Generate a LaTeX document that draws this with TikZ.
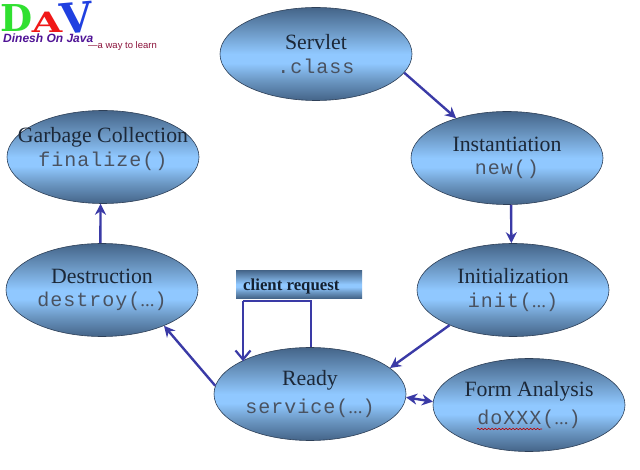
\documentclass[tikz,border=0pt]{standalone}
\usepackage{fontspec}
\setmainfont{Liberation Serif}
\setmonofont[LetterSpace=5]{Liberation Mono}
\setsansfont{Liberation Sans}
\newfontfamily\logofont{DejaVu Serif}
\usetikzlibrary{shapes.geometric,arrows.meta,decorations.pathmorphing}
\definecolor{bdark}{HTML}{446488}
\definecolor{bmid}{HTML}{6C98C4}
\definecolor{blight}{HTML}{90C8FF}
\definecolor{arrowc}{HTML}{3A3AA6}
\definecolor{edgec}{HTML}{2E4058}
\pgfdeclareverticalshading{bubble}{100bp}{
  color(0bp)=(bdark); color(25bp)=(bdark); color(36bp)=(bmid); color(45bp)=(blight); color(50bp)=(blight); color(62bp)=(bmid); color(75bp)=(bdark); color(100bp)=(bdark)}
\newcommand{\titletxt}[1]{{\fontsize{21.8}{25}\selectfont\color[HTML]{1C2838}\raisebox{-1pt}{#1}}}
\newcommand{\codetxt}[1]{{\fontsize{20}{25}\selectfont\ttfamily\color[HTML]{4A5260}\raisebox{-1pt}{#1}}}
\newcommand{\dotstxt}{{\rmfamily\fontsize{19}{25}\selectfont...}}
\tikzset{
  bubblenode/.style={ellipse,draw=edgec,line width=0.6pt,shading=bubble,minimum width=192pt,minimum height=93pt,inner xsep=-36pt,inner ysep=0pt,align=center},
  flow/.style={draw=arrowc,line width=2.4pt,-{Stealth[length=11pt,width=11pt]}},
  flowboth/.style={draw=arrowc,line width=2.4pt,{Stealth[length=11pt,width=11pt]}-{Stealth[length=11pt,width=11pt]}},
  loopline/.style={draw=arrowc,line width=2.2pt},
  logoletter/.style={inner sep=0pt,anchor=base},
}
\begin{document}
\begin{tikzpicture}[x=1pt,y=-1pt]
\useasboundingbox (0,0) rectangle (640,470);
\fill[white] (0,0) rectangle (640,470);
% logo
\node[logoletter,text={rgb,255:red,48;green,224;blue,48}] (logoD) at (17,32) {\logofont\bfseries\fontsize{37}{37}\selectfont D};
\node[logoletter,text={rgb,255:red,240;green,24;blue,24},xscale=1.4] (logoA) at (47,33) {\logofont\bfseries\fontsize{28}{28}\selectfont A};
\node[logoletter,text={rgb,255:red,32;green,64;blue,224},rotate=5] (logoV) at (78,33) {\logofont\bfseries\fontsize{42}{42}\selectfont V};
\node[inner sep=0pt,anchor=base west,text={rgb,255:red,80;green,20;blue,150}] (logoT) at (3,43) {\sffamily\bfseries\itshape\fontsize{12}{12}\selectfont Dinesh On Java};
\node[inner sep=0pt,anchor=base west,text={rgb,255:red,140;green,20;blue,60}] (logoS) at (88,49) {\sffamily\fontsize{9.5}{10}\selectfont ---a way to learn};
% bubbles
\node[bubblenode] (servlet) at (316,54) {\titletxt{Servlet}\\[8pt]\codetxt{.class}};
\node[bubblenode] (inst) at (507,158) {\titletxt{Instantiation}\\[8pt]\codetxt{new()}};
\node[bubblenode] (init) at (513,290) {\titletxt{Initialization}\\[8pt]\codetxt{init(\dotstxt)}};
\node[bubblenode] (ready) at (310,394) {\titletxt{Ready}\\[8pt]\codetxt{service(\dotstxt)}};
\node[bubblenode] (form) at (529,405) {\titletxt{Form Analysis}\\[8pt]\codetxt{doXXX(\dotstxt)}};
\node[bubblenode] (destr) at (102,290) {\titletxt{Destruction}\\[8pt]\codetxt{destroy(\dotstxt)}};
\node[bubblenode] (garbage) at (103,157) {\raisebox{6pt}[14pt][5pt]{\titletxt{Garbage Collection}}\\[8pt]\raisebox{10pt}[14pt][5pt]{\codetxt{finalize()}}};
\node[rectangle,shading=bubble,minimum width=126pt,minimum height=28pt,inner sep=0pt,anchor=north west,draw=none] (req) at (236,270) {};
\node[inner sep=0pt,anchor=base west] (reqt) at (243,291) {\fontsize{16.8}{17}\selectfont\bfseries\color[HTML]{142030}client request};
% connectors
\draw[flow] (servlet.-12.5) -- (inst.142);
\draw[flow] (inst.-85) -- (init.92.5);
\draw[flow] (init.209) -- (ready.18);
\draw[flow] (ready.175) -- (destr.-30);
\draw[flow] (destr.92.5) -- (garbage.-93.7);
\draw[flowboth] (ready.-2) -- (form.178);
\coordinate (loopTopR) at ([xshift=1pt,yshift=-3pt]ready.north |- req.south);
\coordinate (loopTopL) at ([xshift=-68pt]loopTopR);
\coordinate (loopEnd) at ([xshift=-67pt,yshift=-14pt]ready.north);
\draw[loopline] ([xshift=1pt]ready.north) -- (loopTopR) -- (loopTopL);
\draw[loopline,-{Straight Barb[length=9pt,width=15pt]}] (loopTopL) -- (loopEnd);
% squiggle under doXXX
\draw[red!75!black,line width=0.6pt,decorate,decoration={snake,amplitude=0.7pt,segment length=3.5pt}] ([xshift=-52pt,yshift=-24pt]form.center) -- ([xshift=13pt,yshift=-24pt]form.center);
\end{tikzpicture}
\end{document}
